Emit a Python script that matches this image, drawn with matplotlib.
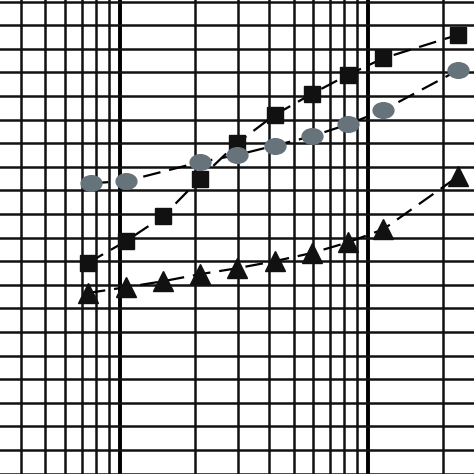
import numpy as np
import matplotlib.pyplot as plt
from matplotlib.path import Path
from matplotlib.transforms import Affine2D
from matplotlib.ticker import LogLocator, MultipleLocator, NullFormatter

sq_x = [0.74, 1.06, 1.49, 2.1, 2.96, 4.2, 5.95, 8.3, 11.5, 23.1]
sq_y = [7.92, 8.86, 9.9, 11.5, 13.0, 14.2, 15.1, 15.9, 16.6, 17.6]
ci_x = [0.76, 1.06, 2.1, 2.96, 4.2, 5.95, 8.3, 11.5, 23.1]
ci_y = [11.3, 11.4, 12.2, 12.5, 12.9, 13.3, 13.8, 14.4, 16.1]
tr_x = [0.74, 1.06, 1.49, 2.1, 2.96, 4.2, 5.95, 8.3, 11.5, 23.1]
tr_y = [6.65, 6.9, 7.15, 7.45, 7.7, 8.0, 8.35, 8.8, 9.35, 11.6]

fig = plt.figure(figsize=(4.74, 4.74), dpi=100)
ax = fig.add_axes([0, 0, 1, 1])
ax.set_xscale("log")
ax.set_xlim(0.328, 26.7)
ax.set_ylim(-1.02, 19.07)

# grid
ax.xaxis.set_major_locator(LogLocator(base=10))
ax.xaxis.set_minor_locator(LogLocator(base=10, subs=np.arange(2, 10)))
ax.xaxis.set_minor_formatter(NullFormatter())
ax.yaxis.set_major_locator(MultipleLocator(1))
ax.grid(True, which="major", axis="x", color="black", linewidth=2.8)
ax.grid(True, which="minor", axis="x", color="#111111", linewidth=1.8)
ax.grid(True, which="major", axis="y", color="#111111", linewidth=1.8)
ax.tick_params(which="both", length=0, labelbottom=False, labelleft=False)
for s in ax.spines.values():
    s.set_visible(False)

ellipse = Path.unit_circle().transformed(Affine2D().scale(1.0, 0.75))

dash = (0, (8, 4))
ax.plot(sq_x, sq_y, color="black", linestyle=dash, linewidth=1.6,
        marker="s", markersize=12, markerfacecolor="#111111", markeredgecolor="#111111", zorder=3)
ax.plot(ci_x, ci_y, color="black", linestyle=dash, linewidth=1.6,
        marker=ellipse, markersize=15, markerfacecolor="#66737b", markeredgecolor="#66737b", zorder=3)
ax.plot(tr_x, tr_y, color="black", linestyle=dash, linewidth=1.6,
        marker="^", markersize=15, markerfacecolor="#111111", markeredgecolor="#111111", zorder=3)

fig.savefig("out.png", dpi=100)
